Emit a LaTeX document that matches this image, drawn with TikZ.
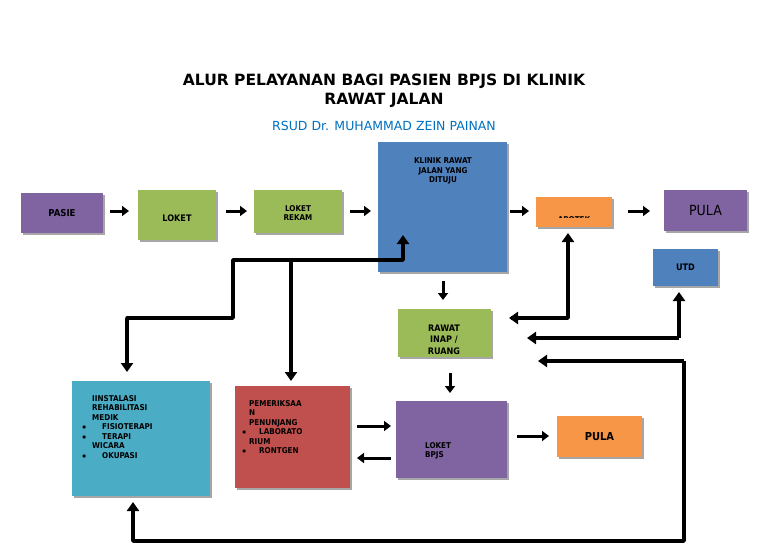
\documentclass[tikz,border=0pt]{standalone}
\usepackage{fontspec}
\setmainfont{DejaVu Sans}
\newfontfamily\cond{DejaVu Sans Condensed}
\usetikzlibrary{arrows.meta}
\definecolor{cpur}{HTML}{8064A2}
\definecolor{cgrn}{HTML}{9BBB59}
\definecolor{cblu}{HTML}{4F81BD}
\definecolor{corg}{HTML}{F79646}
\definecolor{caqua}{HTML}{4BACC6}
\definecolor{cred}{HTML}{C0504D}
\definecolor{ctit}{HTML}{0070C0}
\tikzset{x=1pt,y=-1pt,
 box/.style={fill=#1,draw=none},
 txt/.style={font=\cond\bfseries\fontsize{8}{9.5}\selectfont,align=center,inner sep=0},
 flow/.style={line width=3.5pt,-{Triangle[length=9pt,width=12pt]}},
 sarr/.style={line width=3pt,-{Triangle[length=7pt,width=10pt]}}}
\newcommand{\bx}[6]{% name, x1,y1,x2,y2,color
 \fill[black!35] (#2+2,#3+2) rectangle (#4+2,#5+2);
 \fill[#6] (#2,#3) rectangle (#4,#5);
 \coordinate (#1) at ({(#2+#4)/2},{(#3+#5)/2});}
\begin{document}
\begin{tikzpicture}
\useasboundingbox (0,0) rectangle (768,543);
\node[font=\bfseries\fontsize{15.5}{19}\selectfont,align=center] (title) at (384,91) {ALUR PELAYANAN BAGI PASIEN BPJS DI KLINIK\\RAWAT JALAN};
\node[font=\fontsize{12.5}{14}\selectfont,text=ctit] (sub) at (384,126) {RSUD Dr. MUHAMMAD ZEIN PAINAN};
\bx{pasie}{21}{193}{103}{233}{cpur}
\node[txt,font=\cond\bfseries\fontsize{9.5}{11}\selectfont] at (pasie) {PASIE};
\bx{loket}{138}{190}{216}{240}{cgrn}
\node[txt,font=\cond\bfseries\fontsize{9}{11}\selectfont] at (177,218) {LOKET};
\bx{rekam}{254}{190}{342}{233}{cgrn}
\begin{scope}\clip (254,190) rectangle (342,226);
\node[txt] at (298,213) {LOKET\\REKAM};\end{scope}
\bx{klinik}{378}{142}{507}{272}{cblu}
\node[txt] at (443,171) {KLINIK RAWAT\\JALAN YANG\\DITUJU};
\bx{apot}{536}{197}{612}{227}{corg}
\begin{scope}\clip (536,197) rectangle (612,217);
\node[txt] at (574,220) {APOTEK};\end{scope}
\bx{pula1}{664}{190}{747}{231}{cpur}
\node[font=\cond\fontsize{14}{16}\selectfont] at (pula1) {PULA};
\bx{utd}{653}{249}{718}{286}{cblu}
\node[txt,font=\cond\bfseries\fontsize{9}{11}\selectfont] at (utd) {UTD};
\bx{rawat}{398}{309}{491}{357}{cgrn}
\begin{scope}\clip (398,309) rectangle (491,355);
\node[txt,font=\cond\bfseries\fontsize{9}{11.5}\selectfont] at (444,345) {RAWAT\\INAP /\\RUANG\\PERAWATAN};\end{scope}
\bx{inst}{72}{381}{210}{496}{caqua}
\node[txt,align=left,anchor=north west] at (92,395) {IINSTALASI\\REHABILITASI\\MEDIK\\
\makebox[10pt][l]{\hspace*{-10pt}$\bullet$}\hspace*{0pt}FISIOTERAPI\\
\makebox[10pt][l]{\hspace*{-10pt}$\bullet$}TERAPI\\WICARA\\
\makebox[10pt][l]{\hspace*{-10pt}$\bullet$}OKUPASI};
\bx{pem}{235}{386}{350}{488}{cred}
\node[txt,align=left,anchor=north west] at (249,400) {PEMERIKSAA\\N\\PENUNJANG\\
\makebox[10pt][l]{\hspace*{-7pt}$\bullet$}LABORATO\\RIUM\\
\makebox[10pt][l]{\hspace*{-7pt}$\bullet$}RONTGEN};
\bx{bpjs}{396}{401}{507}{478}{cpur}
\node[txt,align=left,anchor=west] at (425,451) {LOKET\\BPJS};
\bx{pula2}{557}{416}{642}{457}{corg}
\node[font=\cond\bfseries\fontsize{11}{13}\selectfont] at (pula2) {PULA};
% short arrows
\draw[sarr] (110,211) -- (129,211);
\draw[sarr] (226,211) -- (247,211);
\draw[sarr] (350,211) -- (371,211);
\draw[sarr] (510,211) -- (529,211);
\draw[sarr] (628,211) -- (650,211);
\draw[sarr] (443,281) -- (443,300);
\draw[sarr] (450,373) -- (450,393);
\draw[sarr] (357,426) -- (391,426);
\draw[sarr] (391,458) -- (357,458);
\draw[sarr] (517,436) -- (549,436);
% long flows
\draw[flow] (127,318) -- (127,372);
\draw[flow,line cap=round,line join=round] (127,318) -- (233,318) -- (233,260) -- (403,260) -- (403,235);
\draw[flow] (291,260) -- (291,381);
\draw[flow,line join=round] (511,318) -- (568,318) -- (568,233);
\draw[line width=3.5pt,-{Triangle[length=9pt,width=12pt]}] (568,318) -- (509,318);
\draw[flow,line join=round] (679,338) -- (679,292);
\draw[flow] (679,338) -- (527,338);
\draw[flow,line join=round] (684,361) -- (684,541) -- (133,541) -- (133,502);
\draw[flow] (684,361) -- (538,361);
\end{tikzpicture}
\end{document}
